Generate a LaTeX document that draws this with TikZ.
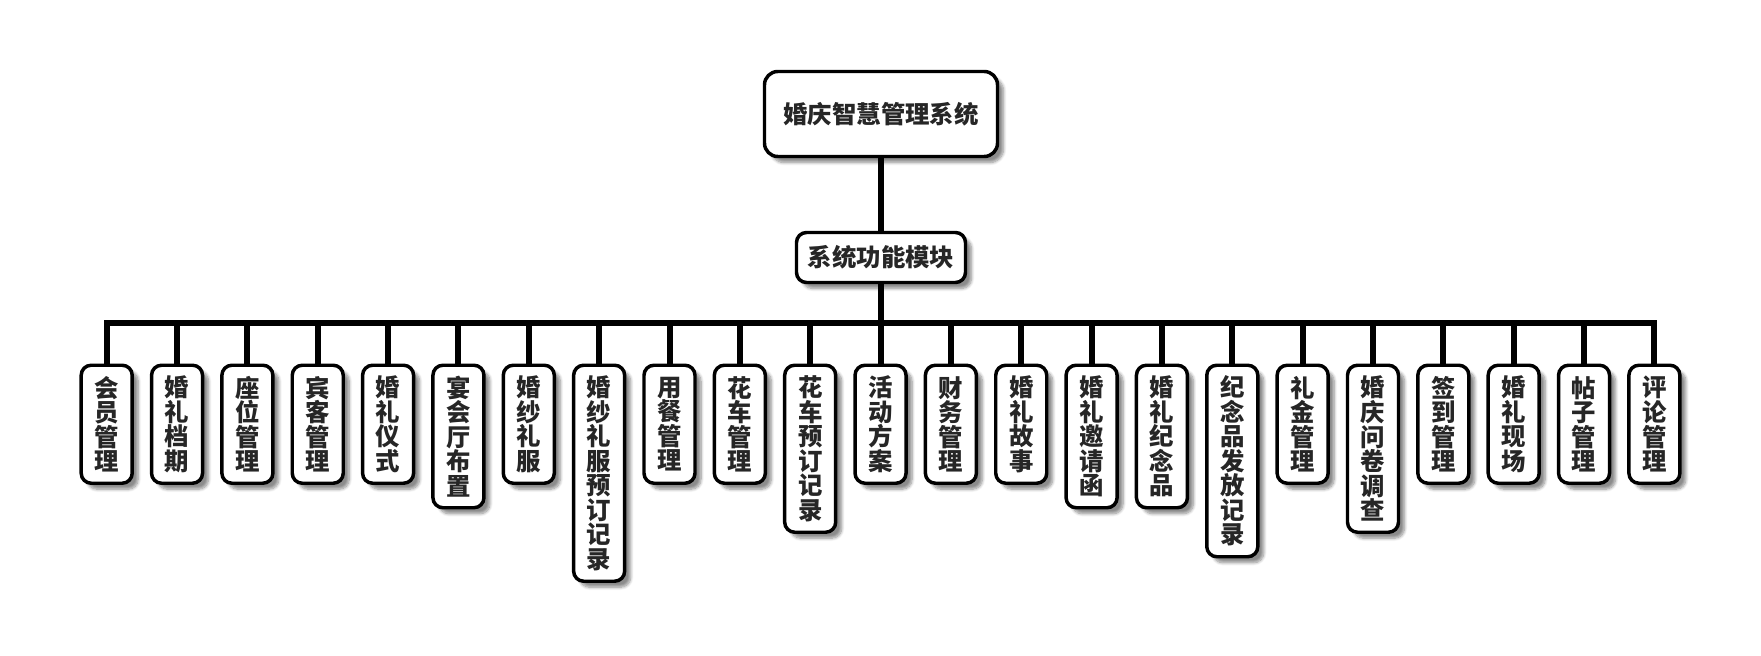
\documentclass[tikz,border=0pt]{standalone}
\usepackage{fontspec}
\setmainfont{Noto Sans CJK SC}
\usetikzlibrary{shadows.blur, backgrounds, positioning}

\tikzset{
  box/.style={draw=black, line width=2.6pt, rounded corners=7.5pt, fill=white, text=black!85,
    font=\bfseries\fontsize{18.3}{18.4}\selectfont,
    blur shadow={shadow xshift=4.5pt, shadow yshift=-4.5pt, shadow blur steps=8, shadow opacity=45}},
  leaf/.style={box, anchor=north, align=center, minimum width=38.25pt, inner xsep=0pt, inner ysep=0pt},
  link/.style={line width=4.5pt}
}

\begin{document}
\begin{tikzpicture}[x=0.75pt, y=-0.75pt]
\useasboundingbox (0,0) rectangle (1761,656);
\node [box, minimum width=174.75pt, minimum height=63.75pt, rounded corners=10pt] (sys) at (881,114) {婚庆智慧管理系统};
\node [box, minimum width=126.75pt, minimum height=37.5pt] (mod) at (881,257.5) {系统功能模块};
\coordinate (bus) at (881,323.3);
\foreach \txt/\n [count=\i from 0] in {{会\\员\\管\\理}/4, {婚\\礼\\档\\期}/4, {座\\位\\管\\理}/4,
    {宾\\客\\管\\理}/4, {婚\\礼\\仪\\式}/4, {宴\\会\\厅\\布\\置}/5, {婚\\纱\\礼\\服}/4,
    {婚\\纱\\礼\\服\\预\\订\\记\\录}/8, {用\\餐\\管\\理}/4, {花\\车\\管\\理}/4,
    {花\\车\\预\\订\\记\\录}/6, {活\\动\\方\\案}/4, {财\\务\\管\\理}/4, {婚\\礼\\故\\事}/4,
    {婚\\礼\\邀\\请\\函}/5, {婚\\礼\\纪\\念\\品}/5, {纪\\念\\品\\发\\放\\记\\录}/7,
    {礼\\金\\管\\理}/4, {婚\\庆\\问\\卷\\调\\查}/6, {签\\到\\管\\理}/4, {婚\\礼\\现\\场}/4,
    {帖\\子\\管\\理}/4, {评\\论\\管\\理}/4} {
  \pgfmathsetmacro{\h}{(\n*24.5+20)*0.75}
  \node [leaf, minimum height=\h pt] (leaf\i) at (106.7+70.35*\i, 363.5) {\txt};
}
\begin{pgfonlayer}{background}
  \draw [link] (sys) -- (mod);
  \draw [link] (mod) -- (bus);
  \foreach \i in {0,...,22}
    \draw [link] (bus) -| (leaf\i.north);
\end{pgfonlayer}
\end{tikzpicture}
\end{document}
